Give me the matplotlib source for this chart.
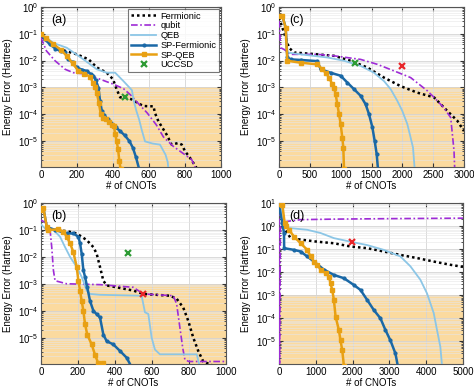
import numpy as np
import matplotlib
matplotlib.use("Agg")
import matplotlib.pyplot as plt
from matplotlib.ticker import LogLocator, NullFormatter

plt.rcParams['font.family'] = ['Liberation Sans', 'DejaVu Sans']
plt.rcParams['mathtext.default'] = 'regular'
plt.rcParams['font.size'] = 7

# ---------------- Panel (a) ----------------
a_ferm_x = [0, 100, 200, 265, 310, 365, 400, 420, 440, 480, 505, 540, 570, 600, 625, 633, 652, 698, 726, 763, 782, 800, 828, 846, 865]
a_ferm_y = [8.9e-2, 2.7e-2, 1.7e-2, 1.1e-2, 5.5e-3, 3.5e-3, 2.0e-3, 8.5e-4, 4.2e-4, 4.0e-4, 3.5e-4, 2.5e-4, 2.0e-4, 1.95e-4, 1.95e-4, 1.1e-4, 5.4e-5, 1.7e-5, 7.2e-6, 8.3e-6, 7.2e-6, 4.1e-6, 2.3e-6, 1.5e-6, 9.5e-7]
a_qub_x = [0, 30, 78, 134, 180, 254, 328, 403, 458, 500, 540, 590, 640, 680, 735, 772, 837, 860]
a_qub_y = [7.2e-2, 2.3e-2, 9.8e-3, 4.7e-3, 3.5e-3, 3.1e-3, 2.0e-3, 1.3e-3, 8.9e-4, 5.0e-4, 2.5e-4, 1.1e-4, 4.0e-5, 1.4e-5, 6.2e-6, 4.1e-6, 2.0e-6, 8.9e-7]
a_qeb_x = [0, 70, 143, 236, 310, 366, 412, 458, 490, 505, 515, 530, 545, 560, 578, 620, 661, 692, 704, 708]
a_qeb_y = [1.0e-1, 4.5e-2, 3.0e-2, 1.1e-2, 4.7e-3, 3.5e-3, 3.5e-3, 1.7e-3, 1.0e-3, 7.8e-4, 3.2e-4, 1.3e-4, 6.3e-5, 2.5e-5, 9.5e-6, 7.9e-6, 7.2e-6, 3.0e-6, 1.6e-6, 8e-7]
a_spf_x = [0, 20, 50, 80, 110, 134, 150, 175, 198, 230, 254, 275, 291, 305, 319, 328, 338, 350, 370, 390, 415, 440, 465, 490, 510, 528, 545]
a_spf_y = [1.0e-1, 6.3e-2, 4.0e-2, 2.8e-2, 2.2e-2, 2.0e-2, 1.1e-2, 8.9e-3, 5.5e-3, 4.5e-3, 4.1e-3, 3.2e-3, 2.7e-3, 1.8e-3, 9.8e-4, 3.1e-4, 1.3e-4, 8.9e-5, 6.5e-5, 4.5e-5, 3.2e-5, 2.3e-5, 1.6e-5, 1.0e-5, 5.6e-6, 2.4e-6, 8.9e-7]
a_spq_x = [0, 25, 69, 110, 143, 175, 208, 240, 273, 290, 300, 310, 322, 332, 342, 360, 380, 395, 405, 412, 420, 428, 435, 442]
a_spq_y = [1.0e-1, 7.1e-2, 4.1e-2, 2.5e-2, 1.5e-2, 7.9e-3, 4.1e-3, 3.2e-3, 2.5e-3, 1.4e-3, 1.0e-3, 6.3e-4, 2.5e-4, 1.0e-4, 7.4e-5, 6.3e-5, 5.0e-5, 4.0e-5, 3.6e-5, 1.8e-5, 1.0e-5, 5.0e-6, 1.8e-6, 8.9e-7]
a_uccsd = (468, 4.2e-4)

# ---------------- Panel (b) ----------------
b_ferm_x = [90, 150, 193, 247, 283, 301, 319, 337, 355, 409, 499, 553, 697, 733, 769, 796, 823, 850, 877, 932, 1000]
b_ferm_y = [1.0e-1, 8.7e-2, 7.4e-2, 4.2e-2, 2.3e-2, 1.3e-2, 4.2e-3, 1.3e-3, 8.7e-4, 7.4e-4, 5.6e-4, 4.2e-4, 3.6e-4, 2.8e-4, 1.3e-4, 4.2e-5, 1.0e-5, 3.2e-6, 1.3e-6, 9e-7, 9e-7]
b_qub_x = [0, 31, 49, 58, 67, 76, 139, 319, 499, 553, 715, 733, 751, 766, 778, 800, 1000]
b_qub_y = [2.3e-1, 1.8e-1, 1.0e-1, 2.3e-2, 3.2e-3, 1.3e-3, 1.0e-3, 9.3e-4, 7.4e-4, 4.2e-4, 3.6e-4, 1.8e-4, 2.3e-5, 4.2e-6, 1.5e-6, 1.3e-6, 1.3e-6]
b_qeb_x = [0, 30, 67, 103, 130, 157, 193, 220, 247, 265, 319, 544, 562, 580, 598, 616, 643, 842, 859]
b_qeb_y = [1.6e-1, 1.0e-1, 1.0e-1, 5.6e-2, 2.3e-2, 1.0e-2, 4.2e-3, 1.8e-3, 5.6e-4, 4.2e-4, 3.9e-4, 3.6e-4, 8.7e-5, 7.6e-5, 1.0e-5, 3.6e-6, 2.4e-6, 2.4e-6, 8e-7]
b_spf_x = [0, 13, 31, 76, 139, 175, 202, 211, 220, 229, 238, 250, 265, 283, 301, 319, 337, 355, 391, 427, 463, 490]
b_spf_y = [5.6e-1, 6.5e-1, 1.3e-1, 1.0e-1, 7.4e-2, 7.4e-2, 5.6e-2, 3.2e-2, 1.3e-2, 3.2e-3, 1.8e-3, 7.4e-4, 2.3e-4, 1.0e-4, 7.4e-5, 5.6e-5, 1.3e-5, 7.4e-6, 5.6e-6, 3.2e-6, 1.8e-6, 8e-7]
b_spq_x = [0, 13, 31, 40, 94, 121, 139, 157, 175, 193, 202, 211, 220, 229, 238, 250, 274, 292, 310, 335]
b_spq_y = [5.6e-1, 6.5e-1, 1.3e-1, 1.0e-1, 1.05e-1, 8.7e-2, 5.6e-2, 3.2e-2, 1.5e-2, 4.2e-3, 1.3e-3, 5.6e-4, 2.3e-4, 1.0e-4, 3.2e-5, 1.3e-5, 5.6e-6, 2.3e-6, 1.1e-6, 1.1e-6]
b_uccsd = (469, 1.45e-2)
b_red = (550, 4.2e-4)

# ---------------- Panel (c) ----------------
c_ferm_x = [0, 108, 162, 243, 622, 892, 1162, 1432, 1703, 1973, 2243, 2514, 2730, 2892, 3000]
c_ferm_y = [4.0e-1, 7.2e-2, 3.0e-2, 2.0e-2, 1.7e-2, 1.5e-2, 9.8e-3, 5.5e-3, 2.3e-3, 1.1e-3, 6.3e-4, 4.2e-4, 1.3e-4, 5.6e-5, 2.3e-5]
c_qub_x = [0, 27, 81, 189, 622, 892, 1324, 1595, 1865, 2135, 2405, 2514, 2676, 2784, 2811, 2838, 2849]
c_qub_y = [3.0e-1, 3.0e-2, 2.6e-2, 1.7e-2, 1.7e-2, 1.5e-2, 1.1e-2, 7.2e-3, 4.1e-3, 2.3e-3, 7.4e-4, 4.2e-4, 1.7e-4, 7.4e-5, 1.8e-5, 4.3e-6, 8.9e-7]
c_qeb_x = [0, 54, 108, 135, 351, 784, 1054, 1324, 1540, 1703, 1811, 1919, 2000, 2081, 2135, 2173, 2200]
c_qeb_y = [4.6e-1, 4.6e-1, 1.7e-1, 2.0e-2, 1.7e-2, 1.3e-2, 9.8e-3, 6.3e-3, 3.5e-3, 1.7e-3, 8.5e-4, 3.1e-4, 1.3e-4, 4.2e-5, 1.3e-5, 5.6e-6, 8.9e-7]
c_spf_x = [0, 54, 108, 135, 189, 351, 622, 676, 838, 1000, 1108, 1216, 1324, 1405, 1459, 1514, 1551, 1584, 1605]
c_spf_y = [4.6e-1, 4.6e-1, 1.7e-1, 1.3e-2, 1.1e-2, 1.05e-2, 9.5e-3, 4.7e-3, 3.5e-3, 2.7e-3, 1.5e-3, 8.5e-4, 4.8e-4, 2.3e-4, 1.0e-4, 3.2e-5, 1.0e-5, 3.2e-6, 8.9e-7]
c_spq_x = [0, 54, 108, 135, 351, 622, 703, 757, 811, 865, 892, 919, 946, 973, 1000, 1027, 1043, 1054]
c_spq_y = [4.6e-1, 4.6e-1, 1.7e-1, 9.8e-3, 8.3e-3, 7.2e-3, 4.7e-3, 3.5e-3, 2.3e-3, 1.3e-3, 9.8e-4, 5.5e-4, 2.3e-4, 1.0e-4, 4.2e-5, 1.3e-5, 5.6e-6, 8.9e-7]
c_uccsd = (1232, 8.3e-3)
c_red = (1989, 6.3e-3)

# ---------------- Panel (d) ----------------
d_ferm_x = [90, 226, 316, 588, 1040, 1492, 1944, 2396, 2848, 3300, 3752, 4204, 4656, 5000]
d_ferm_y = [9.8e-1, 5.0e-1, 3.0e-1, 2.6e-1, 2.1e-1, 1.8e-1, 1.3e-1, 1.1e-1, 7.9e-2, 5.6e-2, 4.1e-2, 2.9e-2, 2.1e-2, 1.7e-2]
d_qub_x = [0, 15, 40, 226, 588, 1492, 3000, 5000]
d_qub_y = [8.0, 9e-7, 1.3, 1.6, 1.9, 2.0, 2.1, 2.2]
d_qeb_x = [0, 45, 90, 136, 316, 768, 1130, 1492, 1944, 2396, 2848, 3300, 3571, 3842, 4023, 4204, 4294, 4384, 4430]
d_qeb_y = [7.9, 10.0, 1.35, 8.1e-1, 8.1e-1, 6.9e-1, 5.0e-1, 3.0e-1, 2.1e-1, 1.5e-1, 9.3e-2, 4.8e-2, 1.8e-2, 4.7e-3, 1.2e-3, 1.7e-4, 3.1e-5, 5.9e-6, 8.9e-7]
d_spf_x = [0, 90, 136, 140, 407, 588, 768, 949, 1220, 1492, 1763, 2034, 2215, 2396, 2576, 2757, 2893, 3028, 3164, 3227]
d_spf_y = [7.9, 1.35, 5.0e-1, 1.1e-1, 9.3e-2, 7.9e-2, 4.8e-2, 2.9e-2, 1.3e-2, 7.6e-3, 5.5e-3, 2.8e-3, 1.7e-3, 6.3e-4, 2.3e-4, 1.0e-4, 3.1e-5, 1.1e-5, 3.0e-6, 8.9e-7]
d_spq_x = [0, 27, 90, 154, 200, 271, 407, 588, 768, 859, 949, 1040, 1130, 1266, 1356, 1401, 1446, 1492, 1537, 1627, 1672, 1718, 1763]
d_spq_y = [8.9, 10.0, 8.5, 1.35, 1.0, 6.9e-1, 3.5e-1, 1.8e-1, 9.3e-2, 4.8e-2, 2.9e-2, 2.1e-2, 1.3e-2, 9.1e-3, 6.5e-3, 3.3e-3, 1.7e-3, 6.3e-4, 1.2e-4, 3.1e-5, 1.1e-5, 4.2e-6, 8.9e-7]
d_red = (1989, 0.21)

labels = ['Fermionic', 'qubit', 'QEB', 'SP-Fermionic', 'SP-QEB', 'UCCSD']
panel_names = ['(a)', '(b)', '(c)', '(d)']
x_limits = [1000, 1000, 3000, 5000]
y_tops = [1.0, 1.0, 1.0, 10.0]
chem_acc = 1e-3

C_FERM = 'black'
C_QUB = '#9E2BD6'
C_QEB = '#8CC6E6'
C_SPF = '#1A68A6'
C_SPQ = '#E8A013'
C_UCC = '#2E9B35'
C_RED = '#E8262A'
C_SHADE = '#FBDA9F'

W, H = 474, 390
fig = plt.figure(figsize=(W/100, H/100), dpi=100)

def frac(l, r, t, b):
    return [l/W, 1-b/H, (r-l)/W, (b-t)/H]

ax_a = fig.add_axes(frac(41, 221, 7, 167))
ax_c = fig.add_axes(frac(279, 464, 7, 167))
ax_b = fig.add_axes(frac(41, 226, 203, 364))
ax_d = fig.add_axes(frac(279, 463, 203, 364))

panels = [
    (ax_a, a_ferm_x, a_ferm_y, a_qub_x, a_qub_y, a_qeb_x, a_qeb_y, a_spf_x, a_spf_y, a_spq_x, a_spq_y, a_uccsd, None),
    (ax_b, b_ferm_x, b_ferm_y, b_qub_x, b_qub_y, b_qeb_x, b_qeb_y, b_spf_x, b_spf_y, b_spq_x, b_spq_y, b_uccsd, b_red),
    (ax_c, c_ferm_x, c_ferm_y, c_qub_x, c_qub_y, c_qeb_x, c_qeb_y, c_spf_x, c_spf_y, c_spq_x, c_spq_y, c_uccsd, c_red),
    (ax_d, d_ferm_x, d_ferm_y, d_qub_x, d_qub_y, d_qeb_x, d_qeb_y, d_spf_x, d_spf_y, d_spq_x, d_spq_y, None, d_red),
]

y_bottom = 1.05e-6
for i, (ax, fx, fy, qx, qy, ex, ey, sfx, sfy, sqx, sqy, ucc, red) in enumerate(panels):
    ax.set_yscale('log')
    ax.set_xlim(0, x_limits[i])
    ax.set_ylim(y_bottom, y_tops[i])
    ax.set_axisbelow(True)
    ax.axhspan(y_bottom, chem_acc, color=C_SHADE, zorder=0.2, lw=0)
    ax.grid(True, which='major', color='#d4d4d4', lw=0.6)
    ax.grid(True, which='minor', axis='y', color='#e6e6e6', lw=0.4)
    h_f, = ax.plot(fx, fy, color=C_FERM, ls=(0, (1, 1.2)), lw=1.8, zorder=3)
    h_q, = ax.plot(qx, qy, color=C_QUB, ls=(0, (4, 1.5, 1, 1.5)), lw=1.2, zorder=3)
    h_e, = ax.plot(ex, ey, color=C_QEB, lw=1.3, zorder=3)
    h_sf, = ax.plot(sfx, sfy, color=C_SPF, lw=1.8, marker='o', ms=2.0, zorder=4)
    h_sq, = ax.plot(sqx, sqy, color=C_SPQ, lw=1.8, marker='s', ms=2.2, zorder=4)
    if ucc is not None:
        ax.plot([ucc[0]], [ucc[1]], ls='none', marker='x', color=C_UCC, ms=5, mew=1.6, zorder=6)
    if red is not None:
        ax.plot([red[0]], [red[1]], ls='none', marker='x', color=C_RED, ms=5, mew=1.6, zorder=6)
    top_exp = int(round(np.log10(y_tops[i])))
    ax.set_yticks([10.0**k for k in range(top_exp, -6, -1)])
    ax.yaxis.set_minor_locator(LogLocator(base=10, subs=np.arange(2, 10), numticks=20))
    ax.yaxis.set_minor_formatter(NullFormatter())
    ax.set_ylim(y_bottom, y_tops[i])
    ax.tick_params(which='both', direction='in', top=True, right=True, labelsize=7,
                   colors='#333333', labelcolor='black', pad=2)
    ax.tick_params(which='major', length=3)
    ax.tick_params(which='minor', length=1.5)
    for s in ax.spines.values():
        s.set_color('#555555')
        s.set_linewidth(0.8)
    ax.set_xlabel('# of CNOTs', fontsize=7, labelpad=1)
    ax.set_ylabel('Energy Error (Hartree)', fontsize=7, labelpad=3)
    ax.text(0.055, 0.955, panel_names[i], transform=ax.transAxes, fontsize=9, va='top', ha='left', zorder=7)
    if i == 0:
        h_u = ax.plot([], [], ls='none', marker='x', color=C_UCC, ms=5, mew=1.6)[0]
        leg = ax.legend([h_f, h_q, h_e, h_sf, h_sq, h_u], labels, loc='upper right',
                        fontsize=6.7, frameon=True, fancybox=False, edgecolor='#555555',
                        handlelength=2.7, borderaxespad=0.2, labelspacing=0.08,
                        handletextpad=0.45, borderpad=0.3)
        leg.get_frame().set_linewidth(0.8)
        leg.set_zorder(10)

fig.savefig('out.png', dpi=100)
